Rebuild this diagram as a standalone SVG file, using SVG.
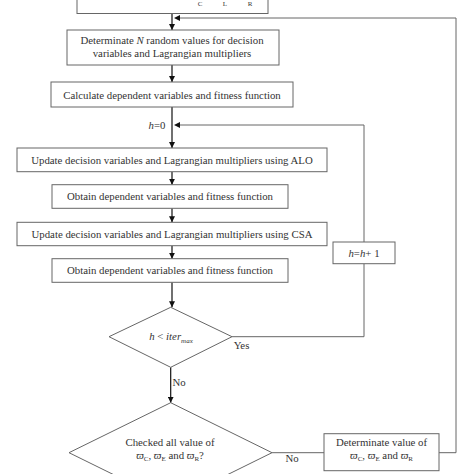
<svg xmlns="http://www.w3.org/2000/svg" width="474" height="474" viewBox="0 0 474 474">
<style>
.box{fill:#fff;stroke:#666;stroke-width:1}
.t{font-family:"Liberation Serif",serif;font-size:10.8px;fill:#333;text-anchor:middle}
.s{font-size:7px}
.i{font-style:italic}
.ln{fill:none;stroke:#666;stroke-width:1}
.ar{fill:none;stroke:#111;stroke-width:1.2}
</style>
<defs>
<marker id="ah" viewBox="0 0 10 10" refX="10" refY="5" markerWidth="6" markerHeight="6" orient="auto" markerUnits="userSpaceOnUse">
<path d="M0,0 L10,5 L0,10 z" fill="#111"/>
</marker>
</defs>
<rect width="474" height="474" fill="#fff"/>
<g id="connectors">
<line class="ar" x1="172" y1="13.5" x2="172" y2="30" marker-end="url(#ah)"/>
<line class="ar" x1="172" y1="65" x2="172" y2="82" marker-end="url(#ah)"/>
<line class="ar" x1="172" y1="107" x2="172" y2="148" marker-end="url(#ah)"/>
<line class="ar" x1="172" y1="171.7" x2="172" y2="184.7" marker-end="url(#ah)"/>
<line class="ar" x1="172" y1="208.3" x2="172" y2="222.3" marker-end="url(#ah)"/>
<line class="ar" x1="172" y1="245.7" x2="172" y2="258.7" marker-end="url(#ah)"/>
<line class="ar" x1="172" y1="282.3" x2="172" y2="307.3" marker-end="url(#ah)"/>
<line class="ar" x1="170.7" y1="367.3" x2="170.7" y2="402.7" marker-end="url(#ah)"/>
<polyline class="ln" points="232,336.7 364,336.7 364,263.7"/>
<polyline class="ln" points="364,242 364,125 180,125"/>
<path d="M174,125 L180,122 L180,128 z" fill="#111"/>
<line class="ln" x1="272" y1="452.7" x2="324" y2="452.7"/>
<polyline class="ln" points="439,452.7 456,452.7 456,18 180,18"/>
<path d="M174,18 L180,15 L180,21 z" fill="#111"/>
</g>
<g id="top">
<rect class="box" x="77" y="-20" width="191" height="33.5"/>
<text class="t s" x="200" y="6">C</text>
<text class="t s" x="225" y="6">L</text>
<text class="t s" x="250" y="6">R</text>
</g>
<g id="init">
<rect class="box" x="67" y="30" width="212" height="35"/>
<text class="t" x="172" y="44">Determinate <tspan class="i">N</tspan> random values for decision</text>
<text class="t" x="172" y="57">variables and Lagrangian multipliers</text>
</g>
<g id="calc">
<rect class="box" x="51" y="82" width="242" height="25"/>
<text class="t" x="172" y="98.5">Calculate dependent variables and fitness function</text>
</g>
<text class="t" x="157" y="128.5"><tspan class="i">h</tspan>=0</text>
<g id="alo">
<rect class="box" x="17" y="148" width="310" height="23.7"/>
<text class="t" x="172" y="163.5">Update decision variables and Lagrangian multipliers using ALO</text>
</g>
<g id="obtain1">
<rect class="box" x="52" y="184.7" width="236" height="23.6"/>
<text class="t" x="170" y="200">Obtain dependent variables and fitness function</text>
</g>
<g id="csa">
<rect class="box" x="17" y="222.3" width="310" height="23.4"/>
<text class="t" x="172" y="237.5">Update decision variables and Lagrangian multipliers using CSA</text>
</g>
<g id="obtain2">
<rect class="box" x="52" y="258.7" width="236" height="23.6"/>
<text class="t" x="170" y="274">Obtain dependent variables and fitness function</text>
</g>
<g id="inc">
<rect class="box" x="333" y="242" width="62" height="21.7"/>
<text class="t" x="364" y="256.5"><tspan class="i">h</tspan>=<tspan class="i">h</tspan>+ 1</text>
</g>
<g id="dec1">
<polygon class="box" points="170.7,307.3 232,336.7 170.7,367.3 109,336.7"/>
<text class="t" x="171" y="340"><tspan class="i">h</tspan> &lt; <tspan class="i">iter</tspan><tspan class="i s" dy="2.5">max</tspan></text>
<text class="t" x="241.5" y="349">Yes</text>
<text class="t" x="179" y="386">No</text>
</g>
<g id="dec2">
<polygon class="box" points="170.7,402.7 272,452.7 170.7,502.7 69,452.7"/>
<text class="t" x="170" y="446">Checked all value of</text>
<text class="t" x="170" y="459"><tspan class="i">ϖ</tspan><tspan class="s" dy="2">C</tspan><tspan dy="-2">, </tspan><tspan class="i">ϖ</tspan><tspan class="s" dy="2">E</tspan><tspan dy="-2"> and </tspan><tspan class="i">ϖ</tspan><tspan class="s" dy="2">R</tspan><tspan dy="-2">?</tspan></text>
<text class="t" x="292" y="462">No</text>
</g>
<g id="detval">
<rect class="box" x="324" y="433.7" width="115" height="37"/>
<text class="t" x="381.5" y="446">Determinate value of</text>
<text class="t" x="381.5" y="459"><tspan class="i">ϖ</tspan><tspan class="s" dy="2">C</tspan><tspan dy="-2">, </tspan><tspan class="i">ϖ</tspan><tspan class="s" dy="2">E</tspan><tspan dy="-2"> and </tspan><tspan class="i">ϖ</tspan><tspan class="s" dy="2">R</tspan></text>
</g>
</svg>
